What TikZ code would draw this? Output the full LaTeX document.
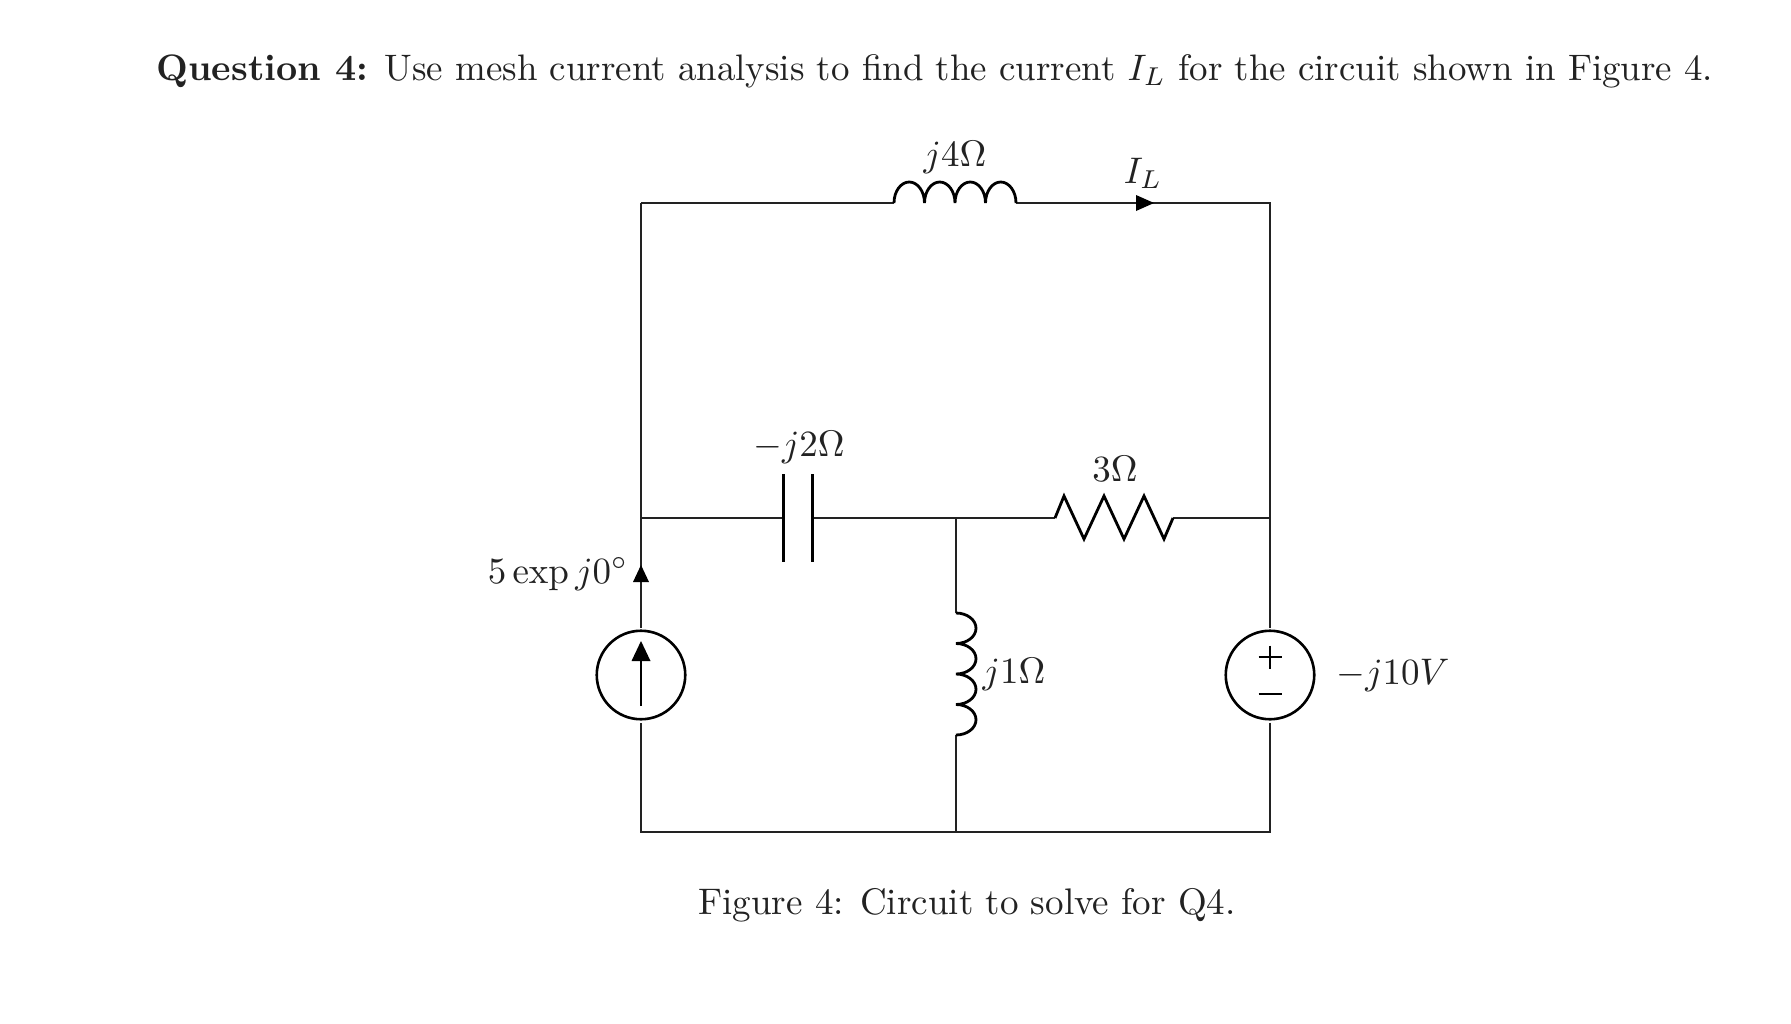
\documentclass[tikz,border=0pt]{standalone}
\definecolor{ink}{HTML}{222222}
\tikzset{
  wire/.style={draw=ink,line width=1.5pt},
  part/.style={draw=black,line width=2.8pt,line join=miter},
  txt/.style={anchor=base,inner sep=0pt,outer sep=0pt,scale=3.7,text=ink},
  src/.style={circle,draw=black,line width=2.6pt,minimum size=35.4pt,inner sep=0pt,fill=none,scale=2.5}
}
\begin{document}
\begin{tikzpicture}[x=1pt,y=-1pt]
\useasboundingbox (0,0) rectangle (1791,1023);
% junctions
\coordinate (tl) at (641,203);
\coordinate (tr) at (1270,203);
\coordinate (ml) at (641,518);
\coordinate (mm) at (956,518);
\coordinate (mr) at (1270,518);
\coordinate (bl) at (641,832);
\coordinate (bm) at (956,832);
\coordinate (br) at (1270,832);
% component end points
\coordinate (L4a) at (894,203);
\coordinate (L4b) at (1016,203);
\coordinate (L1a) at (956,613);
\coordinate (L1b) at (956,735);
\coordinate (C1) at (783.5,518);
\coordinate (C2) at (812.5,518);
\coordinate (Ra) at (1055,518);
\coordinate (Rb) at (1173,518);
\node[src] (isrc) at (641,675) {};
\node[src] (vsrc) at (1270,675) {};
\coordinate (ILtip) at (1154,203);
\coordinate (Itip) at (641,565);
% wires
\draw[wire] (tl) -- (L4a);
\draw[wire] (L4b) -- (tr) -- (vsrc.north);
\draw[wire] (vsrc.south) -- (br) -- (bl) -- (isrc.south);
\draw[wire] (isrc.north) -- (tl);
\draw[wire] (ml) -- (C1);
\draw[wire] (C2) -- (Ra);
\draw[wire] (Rb) -- (mr);
\draw[wire] (mm) -- (L1a);
\draw[wire] (L1b) -- (bm);
% current arrowheads
\fill[black] (ILtip) -- ++(-18,-8) -- ++(0,16) -- cycle;
\fill[black] (Itip) -- ++(-8,17) -- ++(16,0) -- cycle;
% inductors
\draw[part] (L4a) arc[start angle=180,end angle=360,x radius=15.25,y radius=21]
  arc[start angle=180,end angle=360,x radius=15.25,y radius=21]
  arc[start angle=180,end angle=360,x radius=15.25,y radius=21]
  arc[start angle=180,end angle=360,x radius=15.25,y radius=21];
\draw[part] (L1a) arc[start angle=-90,end angle=90,x radius=20,y radius=15.25]
  arc[start angle=-90,end angle=90,x radius=20,y radius=15.25]
  arc[start angle=-90,end angle=90,x radius=20,y radius=15.25]
  arc[start angle=-90,end angle=90,x radius=20,y radius=15.25];
% capacitor
\draw[part] (783.5,474) -- (783.5,562);
\draw[part] (812.5,474) -- (812.5,562);
% resistor
\draw[part] (Ra) -- (1064,496) -- (1084,539) -- (1104,496) -- (1124,539) -- (1144,496) -- (1164,539) -- (Rb);
% source symbols
\draw[black,line width=2.6pt] (641,706) -- (641,655);
\fill[black] (641,641) -- ++(-9.5,20) -- ++(19,0) -- cycle;
\draw[black,line width=1.5pt] (1258.5,657) -- (1281.5,657) (1270,645.5) -- (1270,668.5);
\draw[black,line width=1.5pt] (1258.5,694) -- (1281.5,694);
% labels
\node[txt,anchor=base west,scale=0.997] (title) at (156.5,80) {\textbf{Question 4:} Use mesh current analysis to find the current $I_L$ for the circuit shown in Figure 4.};
\node[txt] (lj4) at (955,166) {$j4\Omega$};
\node[txt] (lil) at (1143,183) {$I_L$};
\node[txt] (lcap) at (799,456) {$-j2\Omega$};
\node[txt] (lr) at (1115,481) {$3\Omega$};
\node[txt] (li) at (558,583) {$5\exp j0^\circ$};
\node[txt] (lj1) at (1014,683) {$j1\Omega$};
\node[txt] (lv) at (1393,684) {$-j10V$};
\node[txt] (cap) at (967,914) {Figure 4: Circuit to solve for Q4.};
\end{tikzpicture}
\end{document}
